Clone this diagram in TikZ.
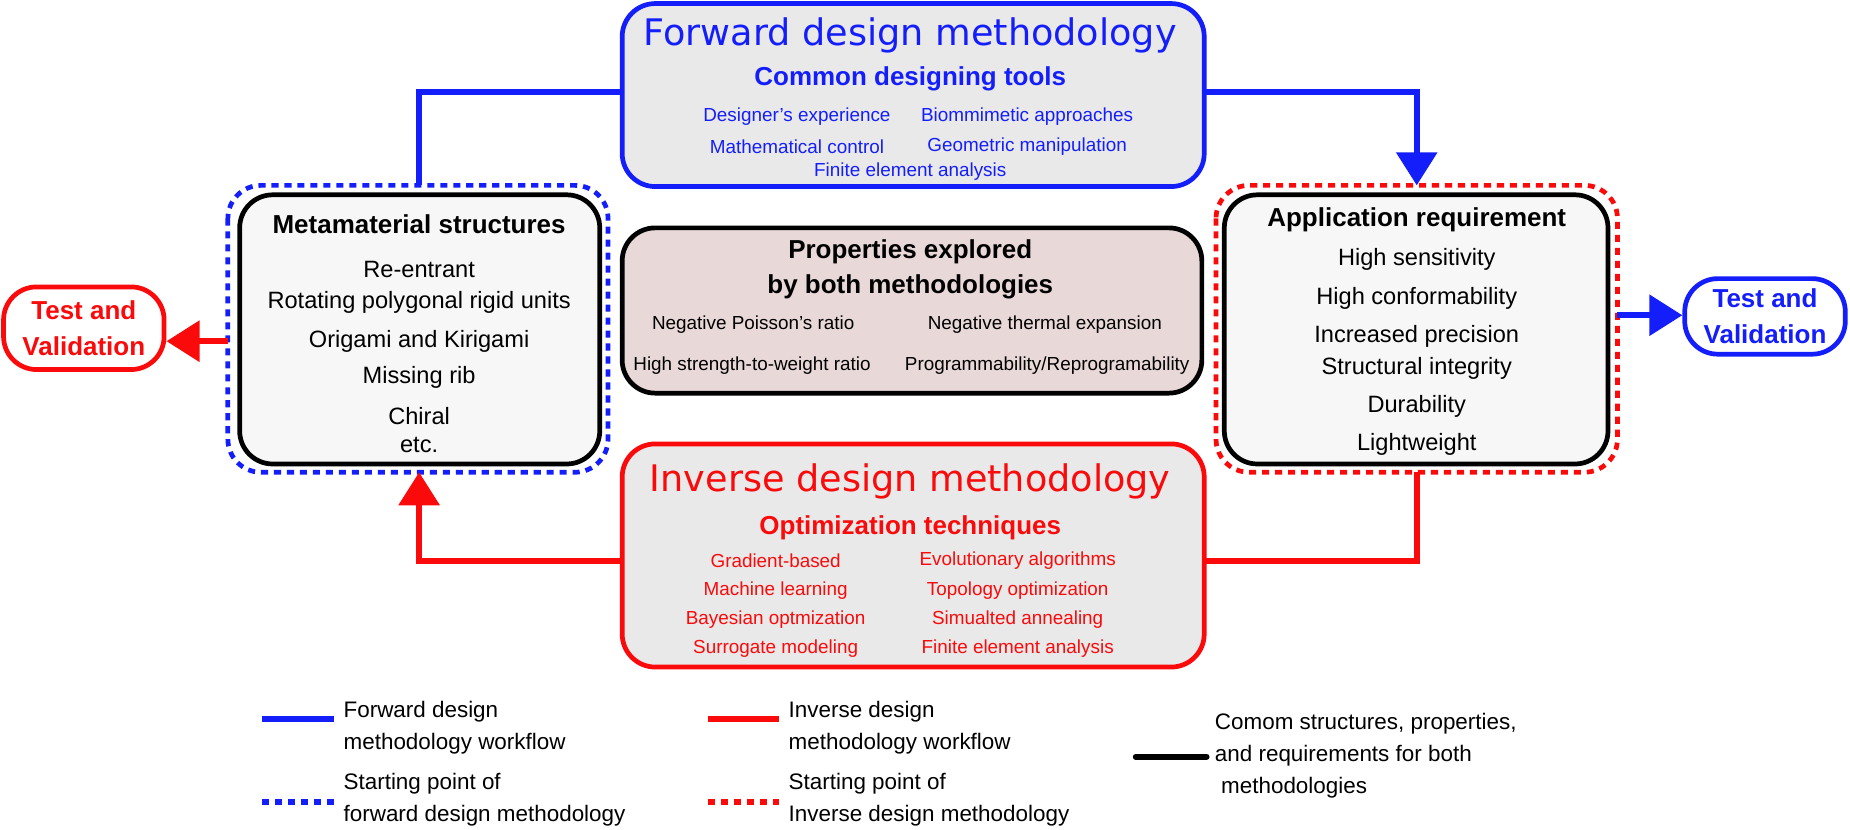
\documentclass[tikz,border=0pt]{standalone}
\usepackage{fontspec}
\setmainfont{Liberation Sans}
\newfontfamily\titlefont{DejaVu Sans}
\usetikzlibrary{arrows.meta}
\definecolor{fwdblue}{RGB}{20,30,250}
\definecolor{invred}{RGB}{250,10,10}
\definecolor{boxgray}{RGB}{233,233,233}
\definecolor{propfill}{RGB}{233,216,216}
\tikzset{
  panel/.style={rounded corners=14pt, line width=2pt},
  flow/.style={line width=2.5pt},
  bigtip/.style={-{Triangle[length=14pt,width=17pt]}},
  item/.style={font=\fontsize{10}{12}\selectfont},
  small/.style={font=\fontsize{8}{9}\selectfont},
  head/.style={font=\fontsize{11}{13}\selectfont\bfseries},
  legtxt/.style={font=\fontsize{9.5}{13.5}\selectfont, align=left, anchor=west},
}
\begin{document}
\begin{tikzpicture}[x=0.5pt,y=-0.5pt]
\useasboundingbox (0,0) rectangle (1567,703);

% ---------------- boxes ----------------
\draw[panel, draw=fwdblue, fill=boxgray] (527,3) rectangle (1020,158);
\coordinate (fwdL) at (527,78); \coordinate (fwdR) at (1020,78);
\node[text=fwdblue, font=\titlefont\fontsize{15.5}{18}\selectfont] (fwdt) at (771,30) {Forward design methodology};
\node[text=fwdblue, head] (fwdh) at (771,67) {Common designing tools};
\node[text=fwdblue, small] (f1) at (675,99) {Designer's experience};
\node[text=fwdblue, small] (f2) at (870,99) {Biommimetic approaches};
\node[text=fwdblue, small] (f3) at (675,124) {Mathematical control};
\node[text=fwdblue, small] (f4) at (870,124) {Geometric manipulation};
\node[text=fwdblue, small] (f5) at (771,145) {Finite element analysis};

\draw[panel, draw=invred, fill=boxgray] (527,376) rectangle (1020,565);
\coordinate (invL) at (527,475); \coordinate (invR) at (1020,475);
\node[text=invred, font=\titlefont\fontsize{15.5}{18}\selectfont] (invt) at (771,408) {Inverse design methodology};
\node[text=invred, head] (invh) at (771,447) {Optimization techniques};
\node[text=invred, small] (i1) at (657,475) {Gradient-based};
\node[text=invred, small] (i2) at (862,475) {Evolutionary algorithms};
\node[text=invred, small] (i3) at (657,500) {Machine learning};
\node[text=invred, small] (i4) at (862,500) {Topology optimization};
\node[text=invred, small] (i5) at (657,525) {Bayesian optmization};
\node[text=invred, small] (i6) at (862,525) {Simualted annealing};
\node[text=invred, small] (i7) at (657,549) {Surrogate modeling};
\node[text=invred, small] (i8) at (862,549) {Finite element analysis};

\draw[panel, draw=black, fill=propfill] (527,193) rectangle (1018,333);
\node[head, align=center, font=\fontsize{11}{15}\selectfont\bfseries] (proph) at (771,228) {Properties explored\\by both methodologies};
\node[small] (p1) at (638,275) {Negative Poisson's ratio};
\node[small] (p2) at (885,275) {Negative thermal expansion};
\node[small] (p3) at (637,310) {High strength-to-weight ratio};
\node[small] (p4) at (887,310) {Programmability/Reprogramability};

% metamaterial structures
\draw[panel, draw=fwdblue, dash pattern=on 3pt off 2.5pt, fill=white] (193,157) rectangle (515,400);
\draw[panel, draw=black, fill=black!3] (203,165) rectangle (508,393);
\coordinate (metaT) at (355,157); \coordinate (metaB) at (355,400); \coordinate (metaL) at (193,289);
\node[head] (metah) at (355,190) {Metamaterial structures};
\foreach \t/\y in {Re-entrant/228, Rotating polygonal rigid units/256, Origami and Kirigami/289, Missing rib/320, Chiral/352, etc./377}
  \node[item] at (355,\y) {\t};

% application requirement
\draw[panel, draw=invred, dash pattern=on 3pt off 2.5pt, fill=white] (1030,157) rectangle (1370,400);
\draw[panel, draw=black, fill=black!3] (1037,165) rectangle (1362,393);
\coordinate (appT) at (1200,157); \coordinate (appB) at (1200,400); \coordinate (appR) at (1370,267);
\node[head] (apph) at (1200,186) {Application requirement};
\foreach \t/\y in {High sensitivity/220, High conformability/253, Increased precision/285, Structural integrity/312, Durability/344, Lightweight/376}
  \node[item] at (1200,\y) {\t};

% test and validation
\node[panel, draw=invred, fill=white, text=invred, align=center, font=\fontsize{11}{15}\selectfont\bfseries, minimum width=68pt, minimum height=35pt, inner sep=1pt] (testL) at (71,278) {Test and\\Validation};
\node[panel, draw=fwdblue, fill=white, text=fwdblue, align=center, font=\fontsize{11}{15}\selectfont\bfseries, minimum width=68pt, minimum height=32pt, inner sep=1pt] (testR) at (1495,268) {Test and\\Validation};

% ---------------- workflow ----------------
\draw[flow, fwdblue] (metaT) |- (fwdL);
\draw[flow, fwdblue, bigtip] (fwdR) -| (appT);
\draw[flow, invred, bigtip] (invL) -| (metaB);
\draw[flow, invred] (invR) -| (appB);
\draw[flow, invred, bigtip] (metaL) -- (testL.east |- metaL);
\draw[flow, fwdblue, bigtip] (appR) -- (testR.west |- appR);

% ---------------- legend ----------------
\coordinate (lb1a) at (222,609); \coordinate (lb1b) at (283,609);
\coordinate (lb2a) at (222,679); \coordinate (lb2b) at (283,679);
\coordinate (lr1a) at (600,609); \coordinate (lr1b) at (660,609);
\coordinate (lr2a) at (600,679); \coordinate (lr2b) at (660,679);
\coordinate (lka) at (962,641); \coordinate (lkb) at (1022,641);
\draw[flow, fwdblue] (lb1a) -- (lb1b);
\draw[flow, fwdblue, dash pattern=on 3pt off 2.5pt] (lb2a) -- (lb2b);
\draw[flow, invred] (lr1a) -- (lr1b);
\draw[flow, invred, dash pattern=on 3pt off 2.5pt] (lr2a) -- (lr2b);
\draw[flow, black, line cap=round] (lka) -- (lkb);
\node[legtxt] (lt1) at (284,616) {Forward design\\methodology workflow};
\node[legtxt] (lt2) at (284,677) {Starting point of\\forward design methodology};
\node[legtxt] (lt3) at (661,616) {Inverse design\\methodology workflow};
\node[legtxt] (lt4) at (661,677) {Starting point of\\Inverse design methodology};
\node[legtxt] (lt5) at (1022,640) {Comom structures, properties,\\and requirements for both\\\ methodologies};
\end{tikzpicture}
\end{document}
